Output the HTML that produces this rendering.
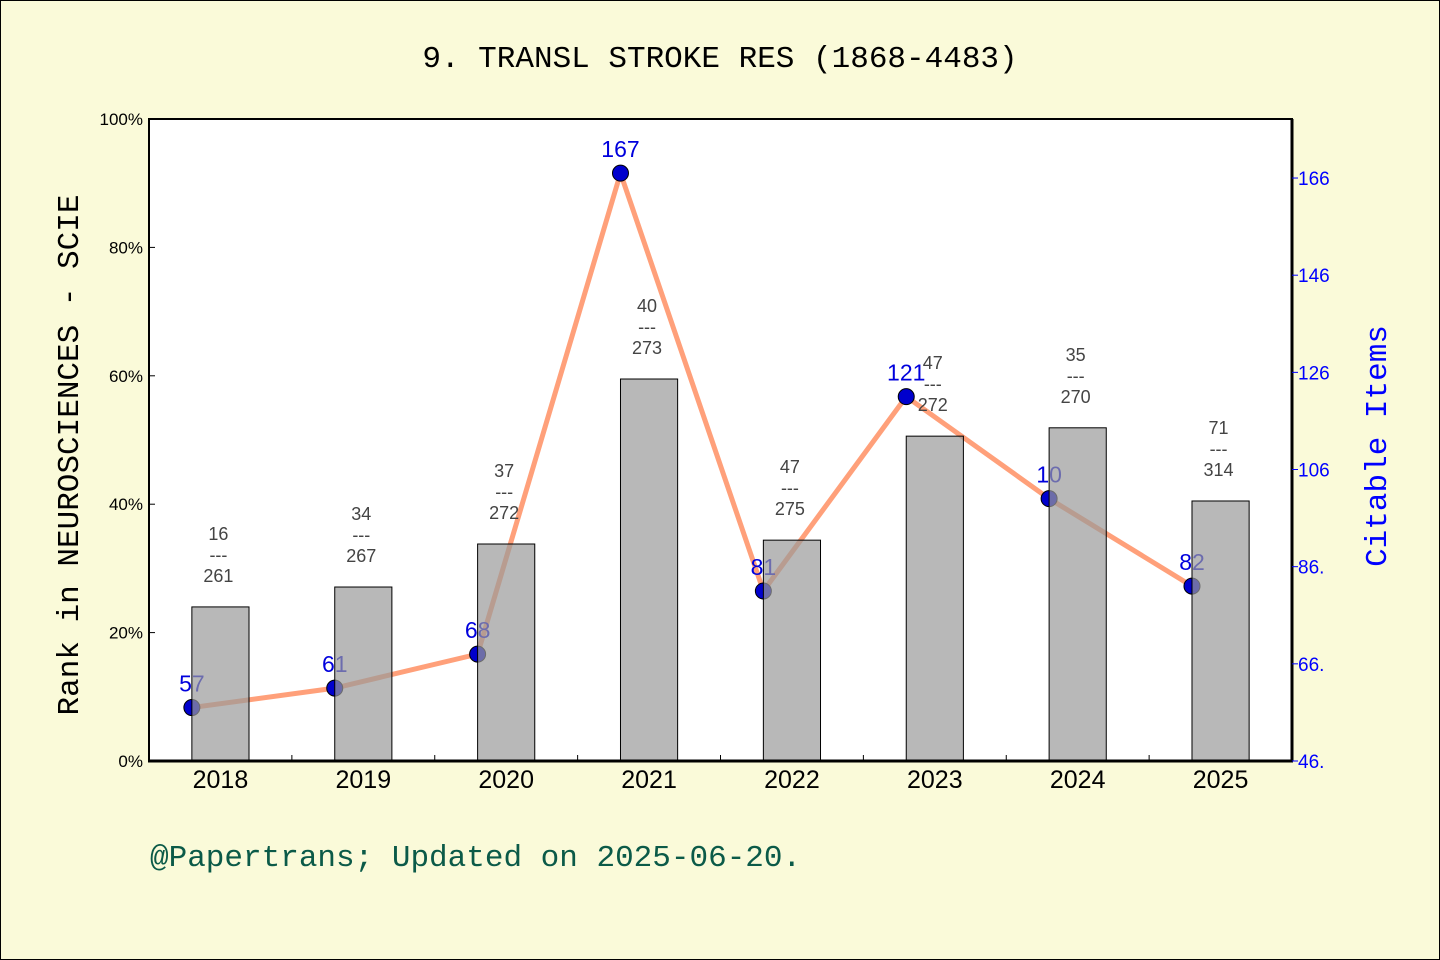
<!DOCTYPE html>
<html><head><meta charset="utf-8"><style>
html,body{margin:0;padding:0;background:#fafad9;}
svg{display:block}
.mono{font-family:"Liberation Mono","DejaVu Sans Mono",monospace;}
.sans{font-family:"Liberation Sans","DejaVu Sans",sans-serif;}
</style></head><body>
<svg id="chart" width="1440" height="960" xmlns="http://www.w3.org/2000/svg">
<rect x="0.5" y="0.5" width="1439" height="959" fill="#fafad9" stroke="#000" stroke-width="1"/>
<text x="720" y="67" text-anchor="middle" class="mono" font-size="31" fill="#000">9. TRANSL STROKE RES (1868-4483)</text>
<rect x="149" y="119" width="1143" height="642" fill="#fff"/>
<g id="line-layer"></g>
<g id="bar-layer"></g>
<g id="ann-layer"></g>
<g id="axis-layer"></g>
<text transform="translate(78,455) rotate(-90)" text-anchor="middle" class="mono" font-size="31" fill="#000">Rank in NEUROSCIENCES - SCIE</text>
<text transform="translate(1386,446) rotate(-90)" text-anchor="middle" class="mono" font-size="31" fill="#0000ff">Citable Items</text>
<text x="150" y="866" class="mono" font-size="31" fill="#0b5a48">@Papertrans; Updated on 2025-06-20.</text>
</svg>
<script>
const years = ["2018","2019","2020","2021","2022","2023","2024","2025"];
const rankPct = [24.0, 27.1, 33.8, 59.5, 34.4, 50.6, 51.9, 40.5];
const rankNum = ["16","34","37","40","47","47","35","71"];
const rankDen = ["261","267","272","273","275","272","270","314"];
const citable = [57, 61, 68, 167, 81, 121, 100, 82];
const citableLabels = ["57","61","68","167","81","121","10","82"];
const leftTicks = [0,20,40,60,80,100];
const rightTicks = [46,66,86,106,126,146,166];
const rightTickLabels = ["46.","66.","86.","106","126","146","166"];

const NS="http://www.w3.org/2000/svg";
const X0=149,X1=1292,Y0=761,Y1=119;
const R_MIN=46,R_MAX=178.15;
const band=(X1-X0)/years.length;
const xc=i=>X0+band*(i+0.5);
const yL=v=>Y0-(v/100)*(Y0-Y1);
const yR=v=>Y0-(v-R_MIN)/(R_MAX-R_MIN)*(Y0-Y1);
const bw=band*0.4;
function mk(tag,attrs,parent,text){const e=document.createElementNS(NS,tag);for(const k in attrs)e.setAttribute(k,attrs[k]);if(text!==undefined)e.textContent=text;parent.appendChild(e);return e;}
const LL=document.getElementById('line-layer'),BL=document.getElementById('bar-layer'),AL=document.getElementById('ann-layer'),XL=document.getElementById('axis-layer');

// line
const pts=citable.map((v,i)=>(xc(i)-bw/2)+","+yR(v)).join(" ");
const pl=mk('polyline',{points:pts,fill:"none",stroke:"#ffa07a","stroke-width":5,"stroke-linejoin":"round"},LL);


citable.forEach((v,i)=>{
  const c=mk('circle',{cx:xc(i)-bw/2,cy:yR(v),r:8,fill:"#0000cd",stroke:"#000","stroke-width":1},LL);
  
  
  const t=mk('text',{x:xc(i)-bw/2,y:yR(v)-16,"text-anchor":"middle","font-size":23,fill:"#0000dd",class:"sans"},LL,citableLabels[i]);
  
  
});
// bars
rankPct.forEach((v,i)=>{
  const r=mk('rect',{x:xc(i)-bw/2,y:yL(v),width:bw,height:Y0-yL(v),fill:"#9a9a9a","fill-opacity":0.7,stroke:"#000","stroke-width":1},BL);
  
  
});
// annotations
rankPct.forEach((v,i)=>{
  const top=yL(v);
  const g=mk('g',{fill:"#444","font-size":18,"text-anchor":"middle",class:"sans"},AL);
  
  
  mk('text',{x:xc(i)-2,y:top-67},g,rankNum[i]);
  mk('text',{x:xc(i)-2,y:top-46},g,"---");
  mk('text',{x:xc(i)-2,y:top-25},g,rankDen[i]);
});
// axes frame
const fr=mk('rect',{x:X0,y:Y1,width:X1-X0,height:Y0-Y1,fill:"none",stroke:"#000","stroke-width":2},XL);


const bx=mk('line',{x1:X0-1,x2:X1+1,y1:Y0,y2:Y0,stroke:"#000","stroke-width":3},XL);


const ry=mk('line',{x1:X1,x2:X1,y1:Y1,y2:Y0,stroke:"#000","stroke-width":3},XL);


leftTicks.forEach(v=>{
  const y=yL(v);
  mk('line',{x1:X0,x2:X0+6,y1:y,y2:y,stroke:"#000","stroke-width":1},XL);
  const t=mk('text',{x:X0-6,y:y+6,"text-anchor":"end","font-size":17,fill:"#000",class:"sans"},XL,v+"%");
  
  
});
rightTicks.forEach((v,i)=>{
  const y=yR(v);
  mk('line',{x1:X1,x2:X1+6,y1:y,y2:y,stroke:"#0000ff","stroke-width":1},XL);
  const t=mk('text',{x:X1+6,y:y+7,"font-size":19,fill:"#0000ff",class:"sans"},XL,rightTickLabels[i]);
  
  
});
years.forEach((y,i)=>{
  if(i>0) mk('line',{x1:X0+band*i,x2:X0+band*i,y1:Y0,y2:Y0-6,stroke:"#000","stroke-width":1},XL);
  const t=mk('text',{x:xc(i),y:Y0+27,"text-anchor":"middle","font-size":25,fill:"#000",class:"sans"},XL,y);
  
  
});
</script>
</body></html>
